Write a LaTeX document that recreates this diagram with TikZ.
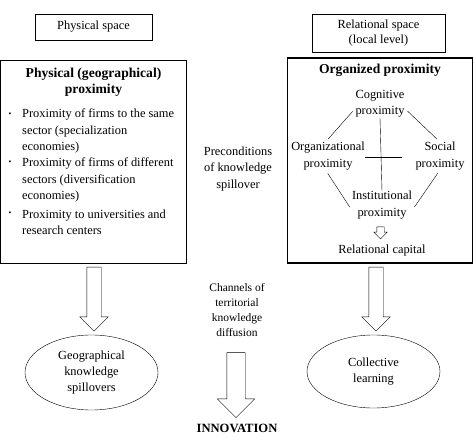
\documentclass[tikz,border=0pt]{standalone}
\usepackage{fontspec}
\setmainfont{Liberation Serif}
\usepackage{tikz}
\usetikzlibrary{arrows}
\usetikzlibrary{shapes}
\usetikzlibrary{calc}
\usetikzlibrary{positioning}
\tikzstyle{rec} = [rectangle, draw, inner sep=0pt, align=center]
\tikzstyle{txt} = [inner sep=0pt, align=center]
\tikzstyle{ttl} = [inner sep=0pt, align=center, font=\fontsize{13.6}{15.5}\selectfont\bfseries]
\tikzstyle{bul} = [inner sep=0pt, anchor=west, align=left]
\tikzstyle{line} = [draw, shorten >=4pt, shorten <=4pt]
\tikzstyle{downarr} = [single arrow, draw, rotate=-90, inner sep=0pt, inner ysep=7pt,
    single arrow head extend=7pt]
\tikzstyle{blob} = [ellipse, draw, minimum width=133pt, minimum height=75pt, inner sep=0pt, align=center]

\begin{document}
\begin{tikzpicture}[x=1pt, y=-1pt, font=\fontsize{12.4}{16.3}\selectfont]
\useasboundingbox (0,0) rectangle (474,441);
% top boxes
	\node [rec, minimum width=117pt, minimum height=26pt] (physp) at (93.5,27) {Physical space};
	\node [rec, minimum width=133pt, minimum height=38pt, font=\fontsize{12.4}{15}\selectfont] (relsp) at (378.5,33) {Relational space\\(local level)};
% left block
	\node [rec, minimum width=186pt, minimum height=203pt] (phys) at (93.5,161.5) {};
	\node [ttl] (physt) at (93.5,82.5) {Physical (geographical)\\proximity};
	\node [bul] (b1) at (22,131) {Proximity of firms to the same\\sector (specialization\\economies)};
	\node [bul] (b2) at (22,180) {Proximity of firms of different\\sectors (diversification\\economies)};
	\node [bul] (b3) at (22,222) {Proximity to universities and\\research centers};
	\foreach \y in {115, 163, 214}
		\node [txt, font=\footnotesize] at (10,\y) {\textbullet};
% right block
	\node [rec, minimum width=185pt, minimum height=205pt, line width=1.2pt] (orgp) at (380,160.5) {};
	\node [ttl] (orgt) at (380,70) {Organized proximity};
	\node [txt] (cog) at (380,104) {Cognitive\\proximity};
	\node [txt] (orgz) at (328,156) {Organizational\\proximity};
	\node [txt] (soc) at (440,156) {Social\\proximity};
	\node [txt] (inst) at (382,205) {Institutional\\proximity};
	\node [single arrow, draw, rotate=-90, inner sep=0pt, inner ysep=3.5pt, single arrow head extend=3pt,
		minimum height=12pt] (small) at (380.5,231) {};
	\node [txt] (relc) at (382,251) {Relational capital};
	\coordinate (ctr) at (382,157);
	\path [line] (cog.190) -- (orgz.100);
	\path [line] (cog.-10) -- (soc.north);
	\path [line] (orgz.260) -- (inst.190);
	\path [line] (soc.south) -- (inst.-10);
	\path [draw] (cog.south) -- (inst.north);
	\path [draw] ($(ctr)+(-17,0)$) -- ($(ctr)+(20,0)$);
% middle texts
	\node [txt] (prec) at (238,169) {Preconditions\\of knowledge\\spillover};
	\node [txt, font=\fontsize{11.5}{15.3}\selectfont] (chan) at (237,310) {Channels of\\territorial\\knowledge\\diffusion};
% arrows and outcomes
	\node [downarr, minimum height=64pt] (a1) at (94,295.5) {};
	\node [downarr, minimum height=64pt] (a2) at (376,295.5) {};
	\node [downarr, minimum height=65pt, inner ysep=9pt, single arrow head extend=9.5pt] (a3) at (236,380.5) {};
	\node [blob] (geo) at (91.5,372.5) {Geographical\\knowledge\\spillovers};
	\node [blob, minimum height=73pt] (coll) at (373.5,371.5) {Collective\\learning};
	\node [txt, font=\fontsize{12.6}{15}\selectfont\bfseries] (inno) at (237,428) {INNOVATION};
\end{tikzpicture}
\end{document}
